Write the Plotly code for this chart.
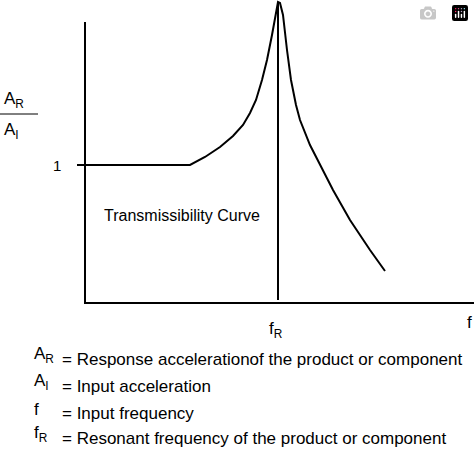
import plotly.graph_objects as go

# curve values (frequency units, response ratio units on a pixel-like scale, y downwards)
curve_f = [77, 190, 205, 220, 233, 243, 250, 256, 262, 267, 272, 276, 278, 280, 283, 287, 291, 296, 300, 310, 320, 333, 350, 370, 385]
curve_t = [165, 165, 157, 147, 136, 125, 113, 100, 80, 60, 35, 10, 2, 3, 15, 50, 80, 105, 120, 145, 165, 190, 220, 250, 271]
axis_x = [85, 85, 474]
axis_y = [22, 303, 303]
res_x = [278, 278]
res_y = [2, 300]

F = "Liberation Sans, Arial, sans-serif"
fig = go.Figure()
for xs, ys in [(axis_x, axis_y), (curve_f, curve_t), (res_x, res_y)]:
    fig.add_trace(go.Scatter(x=xs, y=ys, mode="lines", line=dict(color="black", width=2), hoverinfo="skip"))

def txt(x, y, s, size=14, anchor="left"):
    fig.add_annotation(x=x, y=y, text=s, showarrow=False, xanchor=anchor, yanchor="middle",
                       font=dict(family=F, size=size, color="black"))

txt(2, 100, "A<sub>R</sub>", 17)
fig.add_shape(type="line", x0=0, x1=38, y0=114, y1=114, line=dict(color="black", width=1))
txt(2, 131, "A<sub>I</sub>", 17)
txt(57, 165, "1", 15, "center")
txt(182, 215, "Transmissibility Curve", 16, "center")
txt(276, 330, "f<sub>R</sub>", 17, "center")
txt(469, 322, "f", 17, "center")
legend = [
    (358, "A<sub>R</sub>", "= Response accelerationof the product or component"),
    (385, "A<sub>I</sub>", "= Input acceleration"),
    (412, "f", "= Input frequency"),
    (437, "f<sub>R</sub>", "= Resonant frequency of the product or component"),
]
for y, sym, desc in legend:
    txt(32, y - 3, sym, 17)
    txt(60, y + 1, desc, 17)

fig.update_layout(width=474, height=452, margin=dict(l=0, r=0, t=0, b=0),
                  plot_bgcolor="white", paper_bgcolor="white", showlegend=False,
                  xaxis=dict(range=[0, 474], visible=False, fixedrange=True),
                  yaxis=dict(range=[452, 0], visible=False, fixedrange=True))
fig.write_html("out.html", post_script="document.body.style.margin='0';document.body.style.overflow='hidden';")
